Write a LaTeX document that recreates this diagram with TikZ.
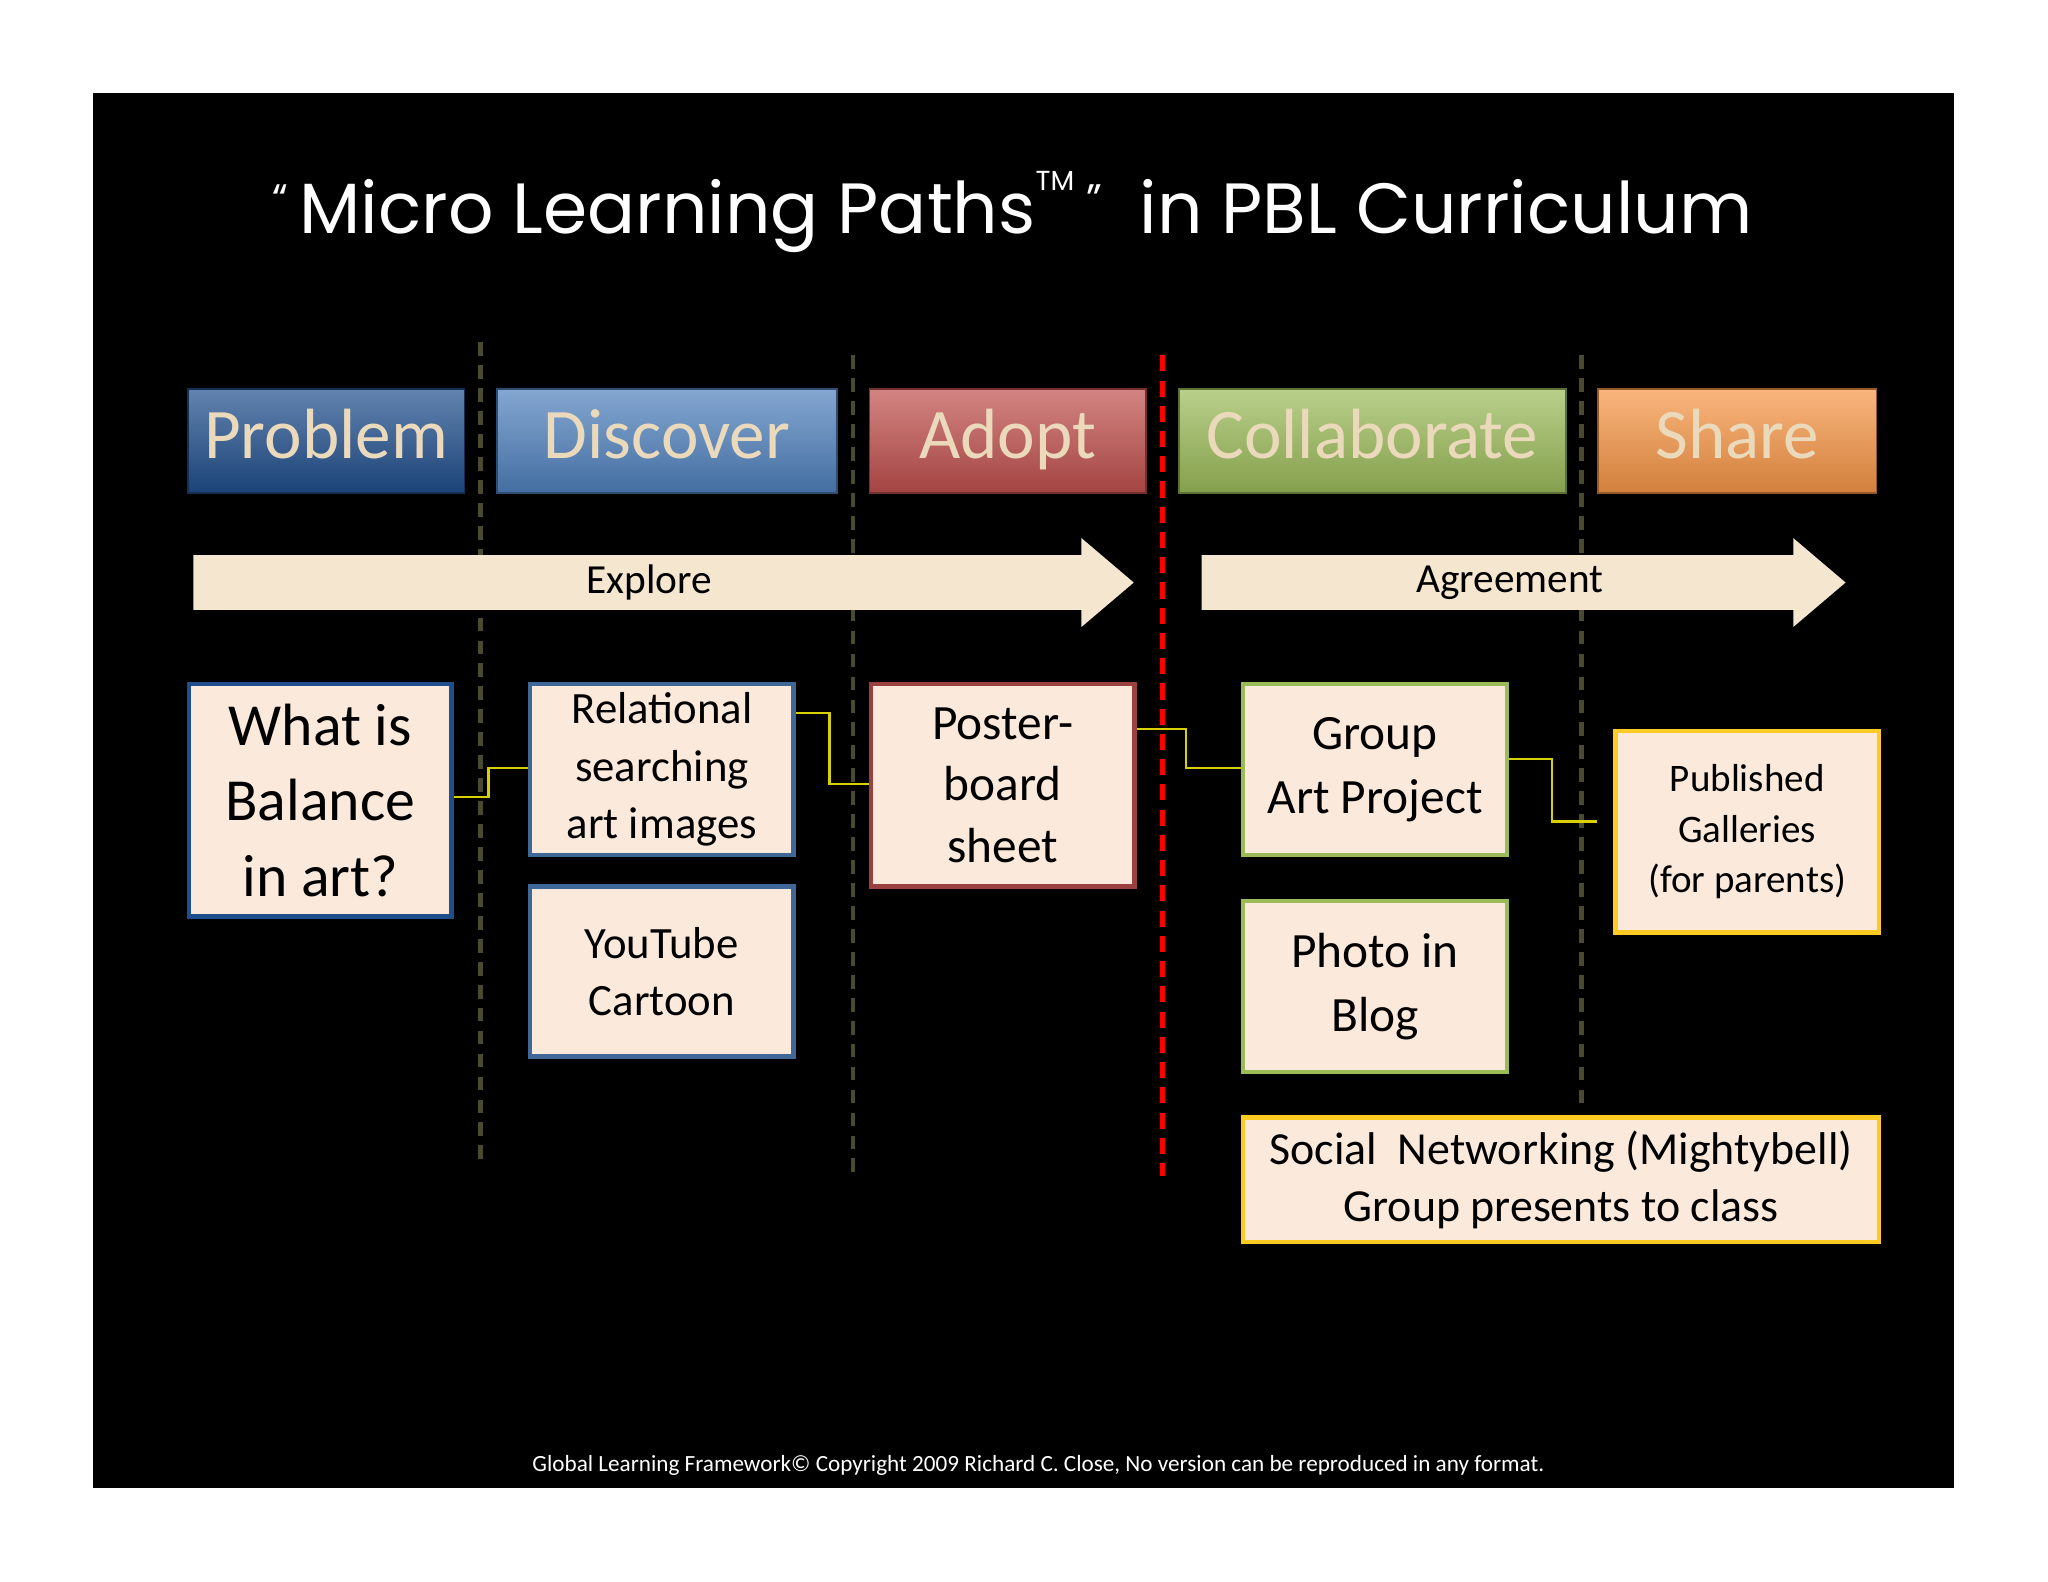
\documentclass[tikz,border=0pt]{standalone}
\usepackage{fontspec}
\setmainfont{Carlito}
\newfontfamily\titlefont{Poppins}
\begin{document}
\begin{tikzpicture}[x=0.02cm,y=-0.02cm,
 hdr/.style={draw=#1!60!black,line width=0.8pt,minimum height=1.6cm,inner sep=0pt,text=tanc,font=\fontsize{31}{34}\selectfont,anchor=north west,top color=#1!70!white,bottom color=#1!85!black,text height=21pt,text depth=6pt},
 box/.style={draw=#1,line width=2pt,fill=peach,inner sep=0pt,anchor=north west,align=center},
 vline/.style={olive,dashed,line width=2pt,dash pattern=on 6pt off 4pt},
 conn/.style={yellowline,line width=1pt}]
\definecolor{tanc}{HTML}{EBD9BC}
\definecolor{peach}{HTML}{FBE9DB}
\definecolor{olive}{HTML}{4A4A30}
\definecolor{yellowline}{HTML}{D8D000}
\definecolor{cprob}{HTML}{1F4E8C}
\definecolor{cdisc}{HTML}{4F81BD}
\definecolor{cadop}{HTML}{C0504D}
\definecolor{ccoll}{HTML}{9BBB59}
\definecolor{cshar}{HTML}{F79646}
\definecolor{arrowc}{HTML}{F5E6D0}
\useasboundingbox (0,0) rectangle (1568,1211);
\fill[white] (0,0) rectangle (1568,1211);
\fill[black] (71,71) rectangle (1496,1139);
\node[white,font=\titlefont\fontsize{31}{36}\selectfont] (title) at (775,162) {\raisebox{0.5ex}{\fontsize{18}{18}\selectfont“}\,Micro Learning Paths\raisebox{1.1ex}{\fontsize{12}{12}\selectfont TM}\,\raisebox{0.5ex}{\fontsize{18}{18}\selectfont”}\ \ in PBL Curriculum};
% dashed lines
\draw[vline] (368,262) -- (368,890);
\draw[vline] (653,272) -- (653,900);
\draw[vline] (1211,272) -- (1211,850);
\draw[red,dashed,line width=2.5pt,dash pattern=on 7pt off 4pt] (890,272) -- (890,900);
% headers
\node[hdr=cprob,minimum width=4.24cm] (prob) at (143,297) {Problem};
\node[hdr=cdisc,minimum width=5.2cm] (disc) at (380,297) {Discover};
\node[hdr=cadop,minimum width=4.24cm] (adop) at (665,297) {Adopt};
\node[hdr=ccoll,minimum width=5.92cm] (coll) at (902,297) {Collaborate};
\node[hdr=cshar,minimum width=4.26cm] (shar) at (1223,297) {Share};
% arrows
\fill[arrowc] (148,425) -- (828,425) -- (828,412) -- (868,446) -- (828,480) -- (828,467) -- (148,467) -- cycle;
\node[font=\fontsize{18}{20}\selectfont] (explore) at (497,446) {Explore};
\fill[arrowc] (920,425) -- (1373,425) -- (1373,412) -- (1413,446) -- (1373,480) -- (1373,467) -- (920,467) -- cycle;
\node[font=\fontsize{18}{20}\selectfont] (agree) at (1156,446) {Agreement};
% boxes
\node[box=cprob,minimum width=4.02cm,minimum height=3.56cm,font=\fontsize{26}{33}\selectfont] (what) at (143,522) {What is\\Balance\\in art?};
\node[box=cdisc!80!black,minimum width=4.04cm,minimum height=2.62cm,font=\fontsize{19.5}{25}\selectfont] (rel) at (404,522) {Relational\\searching\\art images};
\node[box=cdisc!80!black,minimum width=4.04cm,minimum height=2.6cm,font=\fontsize{19.5}{25}\selectfont] (yt) at (404,677) {YouTube\\Cartoon};
\node[box=cadop!80!black,minimum width=4.04cm,minimum height=3.1cm,font=\fontsize{21.5}{27}\selectfont] (post) at (665,522) {Poster-\\board\\sheet};
\node[box=ccoll,minimum width=4.04cm,minimum height=2.62cm,font=\fontsize{21.5}{28}\selectfont] (grp) at (950,522) {Group\\Art Project};
\node[box=ccoll,minimum width=4.04cm,minimum height=2.62cm,font=\fontsize{21.5}{28}\selectfont] (photo) at (950,688) {Photo in\\Blog};
\node[box=cshar!50!yellow,minimum width=4.04cm,minimum height=3.08cm,font=\fontsize{17}{22}\selectfont] (pub) at (1235,558) {Published\\Galleries\\(for parents)};
\node[box=cshar!50!yellow,minimum width=9.74cm,minimum height=1.9cm,font=\fontsize{20}{25}\selectfont] (soc) at (950,854) {Social~ Networking (Mightybell)\\Group presents to class};
% connectors
\coordinate (pubin) at (1223,629);
\draw[conn] (what.east|-0,610) -- (374,610) |- (rel.west|-0,588);
\draw[conn] (rel.east|-0,546) -- (635,546) |- (post.west|-0,600);
\draw[conn] (post.east|-0,558) -- (908,558) |- (grp.west|-0,588);
\draw[conn] (grp.east|-0,581) -- (1188,581) |- (pubin);
\node[white,font=\fontsize{10.1}{12}\selectfont] (foot) at (795,1122) {Global Learning Framework© Copyright 2009 Richard C. Close, No version can be reproduced in any format.};
\end{tikzpicture}
\end{document}
